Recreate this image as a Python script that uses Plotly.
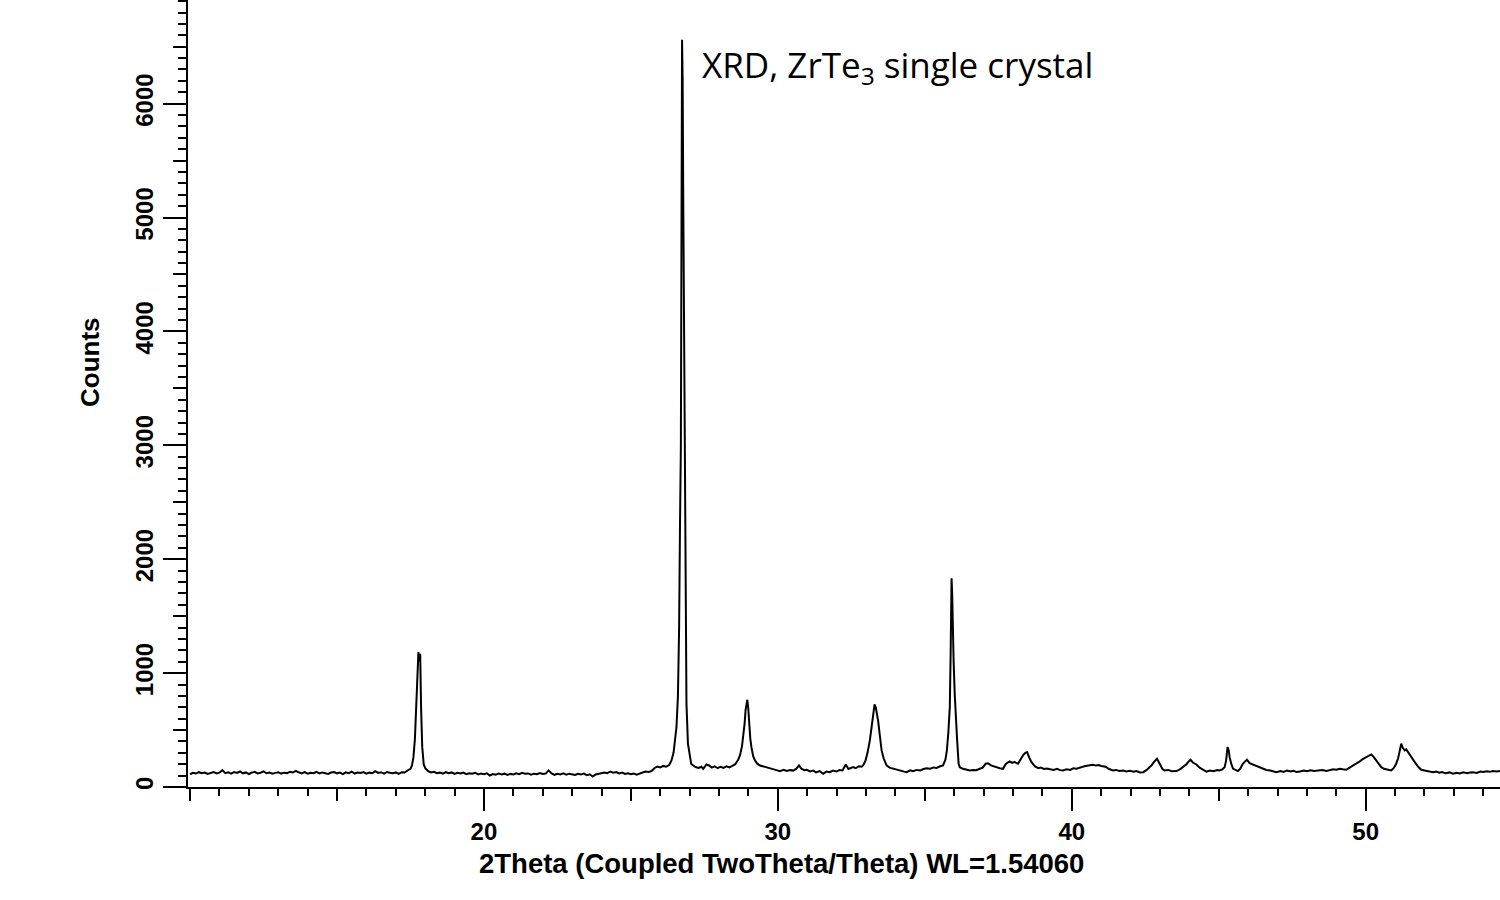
import plotly.graph_objects as go

# ---- data (2Theta in degrees, intensity in counts) ----
two_theta = [
    10.0, 10.1, 10.2, 10.3, 10.4, 10.5, 10.6, 10.7, 10.8, 10.9,
    11.0, 11.1, 11.2, 11.3, 11.4, 11.5, 11.6, 11.7, 11.8, 11.9,
    12.0, 12.1, 12.2, 12.3, 12.4, 12.5, 12.6, 12.7, 12.8, 12.9,
    13.0, 13.1, 13.2, 13.3, 13.4, 13.5, 13.6, 13.7, 13.8, 13.9,
    14.0, 14.1, 14.2, 14.3, 14.4, 14.5, 14.6, 14.7, 14.8, 14.9,
    15.0, 15.1, 15.2, 15.3, 15.4, 15.5, 15.6, 15.7, 15.8, 15.9,
    16.0, 16.1, 16.2, 16.3, 16.4, 16.5, 16.6, 16.7, 16.8, 16.9,
    17.0, 17.1, 17.2, 17.3, 17.4, 17.5, 17.55, 17.6, 17.65, 17.7,
    17.74, 17.77, 17.8, 17.83, 17.86, 17.9, 17.95, 18.0, 18.1, 18.2,
    18.3, 18.4, 18.5, 18.6, 18.7, 18.8, 18.9, 19.0, 19.1, 19.2,
    19.3, 19.4, 19.5, 19.6, 19.7, 19.8, 19.9, 20.0, 20.1, 20.2,
    20.3, 20.4, 20.5, 20.6, 20.7, 20.8, 20.9, 21.0, 21.1, 21.2,
    21.3, 21.4, 21.5, 21.6, 21.7, 21.8, 21.9, 22.0, 22.1, 22.2,
    22.3, 22.4, 22.5, 22.6, 22.7, 22.8, 22.9, 23.0, 23.1, 23.2,
    23.3, 23.4, 23.5, 23.6, 23.7, 23.8, 23.9, 24.0, 24.1, 24.2,
    24.3, 24.4, 24.5, 24.6, 24.7, 24.8, 24.9, 25.0, 25.1, 25.2,
    25.3, 25.4, 25.5, 25.6, 25.7, 25.8, 25.9, 26.0, 26.1, 26.2,
    26.3, 26.38, 26.45, 26.5, 26.55, 26.6, 26.64, 26.67, 26.7, 26.72,
    26.74, 26.76, 26.78, 26.8, 26.83, 26.86, 26.89, 26.94, 27.0, 27.05,
    27.12, 27.2, 27.3, 27.4, 27.46, 27.57, 27.66, 27.75, 27.85, 27.95,
    28.05, 28.15, 28.25, 28.35, 28.45, 28.55, 28.65, 28.71, 28.78, 28.82,
    28.87, 28.9, 28.93, 28.96, 28.99, 29.02, 29.06, 29.1, 29.16, 29.22,
    29.3, 29.39, 29.5, 29.62, 29.72, 29.85, 29.95, 30.07, 30.2, 30.3,
    30.42, 30.52, 30.62, 30.72, 30.8, 30.9, 30.98, 31.1, 31.2, 31.3,
    31.42, 31.54, 31.65, 31.76, 31.88, 32.0, 32.1, 32.2, 32.31, 32.4,
    32.5, 32.56, 32.65, 32.75, 32.85, 32.9, 32.98, 33.05, 33.13, 33.2,
    33.25, 33.29, 33.33, 33.37, 33.41, 33.47, 33.53, 33.6, 33.7, 33.8,
    33.92, 34.05, 34.2, 34.3, 34.38, 34.5, 34.6, 34.72, 34.85, 34.95,
    35.06, 35.18, 35.3, 35.4, 35.5, 35.62, 35.7, 35.75, 35.8, 35.85,
    35.88, 35.91, 35.93, 35.95, 35.98, 36.02, 36.06, 36.1, 36.15, 36.19,
    36.3, 36.4, 36.53, 36.65, 36.75, 36.87, 36.97, 37.07, 37.15, 37.25,
    37.35, 37.44, 37.55, 37.66, 37.75, 37.82, 37.89, 37.97, 38.05, 38.17,
    38.25, 38.34, 38.42, 38.48, 38.55, 38.63, 38.75, 38.86, 38.95, 39.05,
    39.15, 39.25, 39.38, 39.5, 39.6, 39.7, 39.82, 39.95, 40.05, 40.16,
    40.28, 40.4, 40.52, 40.62, 40.72, 40.82, 40.92, 41.0, 41.06, 41.15,
    41.25, 41.4, 41.5, 41.62, 41.75, 41.86, 41.98, 42.1, 42.2, 42.32,
    42.43, 42.55, 42.65, 42.71, 42.8, 42.9, 42.96, 43.01, 43.08, 43.16,
    43.28, 43.4, 43.56, 43.68, 43.79, 43.9, 43.98, 44.04, 44.12, 44.24,
    44.35, 44.45, 44.58, 44.7, 44.82, 44.95, 45.03, 45.12, 45.2, 45.25,
    45.3, 45.34, 45.37, 45.43, 45.49, 45.57, 45.65, 45.73, 45.82, 45.9,
    45.96, 46.05, 46.17, 46.3, 46.4, 46.51, 46.62, 46.75, 46.85, 46.96,
    47.1, 47.2, 47.32, 47.45, 47.55, 47.65, 47.76, 47.9, 48.0, 48.12,
    48.25, 48.4, 48.52, 48.66, 48.78, 48.9, 49.0, 49.12, 49.22, 49.34,
    49.45, 49.55, 49.68, 49.8, 49.9, 50.02, 50.1, 50.19, 50.27, 50.36,
    50.45, 50.53, 50.62, 50.75, 50.87, 50.95, 51.03, 51.1, 51.17, 51.21,
    51.27, 51.33, 51.38, 51.44, 51.52, 51.6, 51.67, 51.78, 51.89, 52.0,
    52.1, 52.2, 52.29, 52.4, 52.5, 52.6, 52.72, 52.85, 52.97, 53.1,
    53.2, 53.32, 53.45, 53.55, 53.65, 53.78, 53.9, 54.0, 54.12, 54.22,
    54.33, 54.45, 54.57,
]
counts = [
    112, 125, 118, 130, 121, 127, 115, 124, 132, 119,
    126, 148, 122, 129, 117, 131, 123, 136, 120, 128,
    114, 126, 133, 119, 125, 138, 121, 127, 116, 124,
    130, 118, 126, 122, 134, 127, 142, 129, 120, 131,
    117, 125, 121, 133, 119, 128, 124, 115, 127, 132,
    120, 126, 113, 129, 122, 135, 118, 127, 124, 131,
    117, 126, 121, 139, 124, 130, 118, 132, 125, 121,
    128, 116, 130, 127, 145, 160, 190, 260, 420, 800,
    1150, 1185, 1100, 1170, 700, 350, 200, 165, 140, 128,
    133, 121, 126, 117, 130, 122, 128, 115, 124, 119,
    127, 112, 121, 116, 125, 110, 118, 113, 120, 101,
    114, 108, 119, 111, 117, 106, 115, 110, 121, 113,
    125, 116, 119, 108, 117, 112, 122, 114, 118, 146,
    120, 107, 116, 111, 120, 109, 117, 113, 105, 116,
    110, 118, 104, 112, 92, 110, 117, 122, 128, 121,
    136, 125, 131, 119, 126, 115, 121, 112, 118, 109,
    120, 127, 135, 131, 140, 165, 180, 172, 185, 178,
    192, 233, 300, 400, 525, 800, 1400, 2300, 3000, 4800,
    6560, 6200, 5200, 4450, 3200, 1600, 731, 380, 260, 204,
    189, 175, 168, 178, 160, 198, 189, 170, 182, 165,
    178, 168, 181, 172, 185, 200, 240, 277, 360, 438,
    560, 672, 740, 766, 700, 555, 430, 350, 270, 233,
    205, 189, 182, 174, 165, 160, 148, 139, 150, 141,
    148, 144, 158, 189, 160, 148, 151, 137, 145, 128,
    140, 116, 135, 130, 144, 137, 150, 146, 198, 158,
    170, 174, 165, 182, 178, 189, 230, 300, 409, 560,
    680, 725, 700, 640, 584, 450, 321, 250, 189, 170,
    160, 150, 142, 135, 130, 146, 138, 150, 145, 158,
    165, 160, 172, 168, 180, 189, 240, 320, 480, 701,
    1200, 1832, 1700, 1400, 1100, 800, 560, 409, 204, 174,
    160, 152, 145, 150, 148, 160, 170, 205, 209, 190,
    180, 174, 165, 160, 200, 215, 224, 212, 220, 204,
    240, 277, 300, 306, 260, 218, 180, 165, 170, 158,
    162, 154, 150, 160, 148, 145, 155, 150, 165, 160,
    172, 180, 186, 192, 195, 188, 192, 185, 183, 178,
    160, 145, 150, 140, 145, 136, 142, 135, 140, 128,
    130, 150, 175, 189, 220, 248, 220, 189, 160, 145,
    150, 138, 140, 155, 174, 200, 225, 239, 215, 198,
    170, 155, 135, 145, 138, 148, 145, 155, 174, 230,
    350, 320, 262, 200, 160, 150, 140, 160, 204, 225,
    239, 210, 198, 185, 172, 160, 150, 145, 138, 130,
    140, 133, 145, 136, 142, 131, 136, 145, 138, 147,
    140, 143, 150, 140, 148, 155, 152, 160, 155, 151,
    170, 185, 204, 225, 245, 262, 275, 286, 265, 233,
    200, 174, 160, 150, 145, 165, 200, 248, 330, 380,
    340, 321, 330, 306, 270, 240, 218, 180, 151, 145,
    138, 132, 130, 136, 125, 131, 120, 128, 116, 125,
    119, 130, 122, 127, 130, 124, 136, 131, 138, 133,
    140, 136, 141,
]

x_major_ticks = [20, 30, 40, 50]
y_major_ticks = [0, 1000, 2000, 3000, 4000, 5000, 6000]
x_title = "2Theta (Coupled TwoTheta/Theta) WL=1.54060"
y_title = "Counts"
label_text = "XRD, ZrTe<sub>3</sub> single crystal"

x_range = [9.93, 54.57]
y_range = [0, 6910]

fig = go.Figure()
fig.add_trace(go.Scatter(x=two_theta, y=counts, mode="lines",
                         line=dict(color="black", width=2),
                         hoverinfo="skip", showlegend=False))
# invisible twin trace to activate the overlay axes (medium ticks)
fig.add_trace(go.Scatter(x=two_theta, y=counts, mode="lines", xaxis="x2", yaxis="y2",
                         line=dict(color="rgba(0,0,0,0)", width=0),
                         hoverinfo="skip", showlegend=False))

arial = "Liberation Sans, Arial, sans-serif"
tick_font = dict(family=arial, size=24, color="black", weight="bold")

fig.update_layout(
    width=1500, height=900,
    margin=dict(l=188, r=0, t=0, b=113),
    paper_bgcolor="white", plot_bgcolor="white",
    showlegend=False,
    xaxis=dict(range=x_range, tickmode="array", tickvals=x_major_ticks,
               ticktext=[str(v) for v in x_major_ticks],
               ticks="outside", ticklen=22, tickwidth=2, tickcolor="black",
               showline=True, linecolor="black", linewidth=2,
               showgrid=False, zeroline=False, tickfont=tick_font,
               minor=dict(dtick=1, tick0=0, ticks="outside", ticklen=7,
                          tickwidth=2, tickcolor="black", showgrid=False)),
    xaxis2=dict(range=x_range, overlaying="x", anchor="y", side="bottom",
                dtick=5, tick0=0, ticks="outside", ticklen=13, tickwidth=2,
                tickcolor="black", showticklabels=False, showline=False,
                showgrid=False, zeroline=False),
    yaxis=dict(range=y_range, tickmode="array", tickvals=y_major_ticks,
               ticktext=[str(v) for v in y_major_ticks],
               ticks="outside", ticklen=23, tickwidth=2, tickcolor="black",
               tickangle=-90,
               showline=True, linecolor="black", linewidth=2,
               showgrid=False, zeroline=False, tickfont=tick_font,
               minor=dict(dtick=100, tick0=0, ticks="outside", ticklen=8,
                          tickwidth=2, tickcolor="black", showgrid=False)),
    yaxis2=dict(range=y_range, overlaying="y", anchor="x", side="left",
                dtick=500, tick0=0, ticks="outside", ticklen=14, tickwidth=2,
                tickcolor="black", showticklabels=False, showline=False,
                showgrid=False, zeroline=False),
    annotations=[
        dict(text=x_title, xref="paper", yref="paper", x=0.4527, y=-0.0966,
             xanchor="center", yanchor="middle", showarrow=False,
             font=dict(family=arial, size=27.5, color="black", weight="bold")),
        dict(text=y_title, xref="paper", yref="paper", x=-0.0747, y=0.54,
             xanchor="center", yanchor="middle", showarrow=False, textangle=-90,
             font=dict(family=arial, size=26, color="black", weight="bold")),
        dict(text=label_text, xref="x", yref="y", x=27.35, y=6330,
             xanchor="left", yanchor="middle", showarrow=False,
             font=dict(family="Open Sans, sans-serif", size=35, color="black")),
    ],
)

fig.write_html("out.html")
